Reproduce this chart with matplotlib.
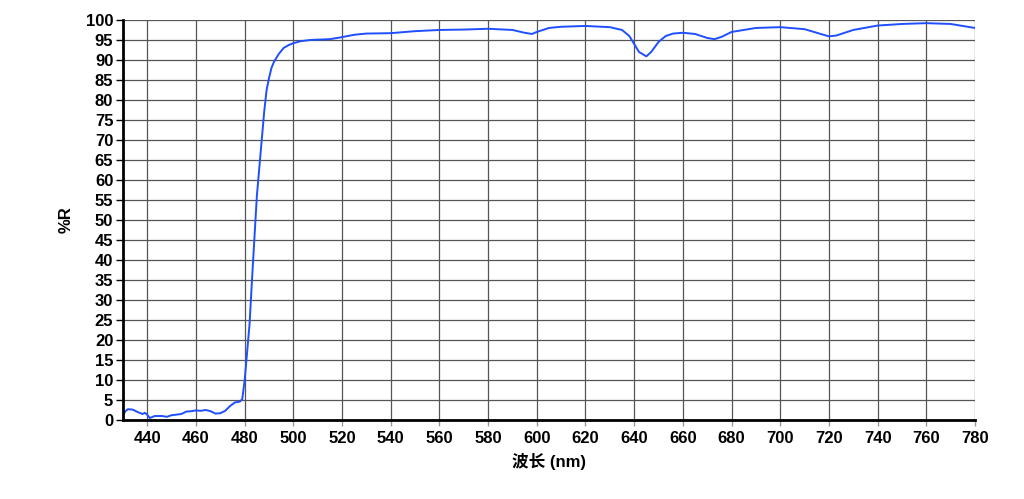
import numpy as np
import matplotlib
matplotlib.use("Agg")
from matplotlib import pyplot as plt

plt.rcParams['font.family'] = ['Liberation Sans', 'Noto Sans CJK SC', 'DejaVu Sans']

# wavelength (nm) and reflectance (%R)
wavelength = [430, 431, 432, 434, 436, 438, 439, 440, 441, 443, 446, 448, 450, 454, 456,
              458, 460, 462, 464, 466, 468, 470, 472, 474, 476, 478, 479, 480, 481, 482,
              483, 484, 485, 486, 487, 488, 489, 490, 491, 492, 494, 496, 498, 500, 503,
              507, 511, 515, 519, 525, 530, 540, 550, 560, 570, 580, 590, 595, 598, 600,
              605, 610, 620, 630, 635, 638, 640, 642, 645, 647, 650, 653, 656, 660, 665,
              670, 673, 676, 680, 690, 700, 710, 715, 720, 723, 730, 740, 750, 760, 770, 780]
reflectance = [1.2, 2.2, 2.7, 2.6, 2.0, 1.5, 1.8, 1.3, 0.5, 1.0, 1.0, 0.8, 1.2, 1.5, 2.1,
               2.2, 2.4, 2.3, 2.5, 2.2, 1.6, 1.7, 2.3, 3.5, 4.4, 4.6, 5.2, 10, 17, 24,
               35, 45.5, 56, 63, 70, 77, 82.5, 85.5, 88, 89.5, 91.5, 93.0, 93.7, 94.2, 94.7,
               95.0, 95.1, 95.2, 95.6, 96.3, 96.6, 96.7, 97.2, 97.5, 97.6, 97.8, 97.5, 96.8, 96.5, 97.0,
               98.0, 98.3, 98.5, 98.2, 97.5, 96.0, 94.0, 92.0, 90.9, 92.0, 94.5, 96.0, 96.6, 96.8, 96.5,
               95.5, 95.2, 95.8, 97.0, 98.0, 98.2, 97.7, 96.8, 95.9, 96.1, 97.5, 98.6, 99.0, 99.2, 99.0, 98.0]

fig = plt.figure(figsize=(10.24, 4.99), dpi=100)
ax = fig.add_axes([0.1201, 0.1583, 0.832, 0.8017])

ax.plot(wavelength, reflectance, color='#1f4fff', lw=1.4, zorder=3)

ax.set_xlim(430, 780)
ax.set_ylim(0, 100)
ax.set_xticks(np.arange(440, 781, 20))
ax.set_yticks(np.arange(0, 101, 5))
ax.grid(True, color='#555555', lw=0.9)
ax.set_axisbelow(True)

for s in ['top', 'right']:
    ax.spines[s].set_visible(False)
for s in ['left', 'bottom']:
    ax.spines[s].set_linewidth(2)
    ax.spines[s].set_zorder(4)

ax.tick_params(axis='y', length=5, width=1, pad=2, labelsize=12)
ax.tick_params(axis='x', length=4, width=1, color='#999999', pad=4, labelsize=12)
for lab in ax.get_xticklabels() + ax.get_yticklabels():
    lab.set_fontweight('bold')

ax.set_xlabel('波长 (nm)', fontsize=12, fontweight='bold', labelpad=5)
ax.set_ylabel('%R', fontsize=12, fontweight='bold', labelpad=9)

fig.savefig('out.png', dpi=100)
